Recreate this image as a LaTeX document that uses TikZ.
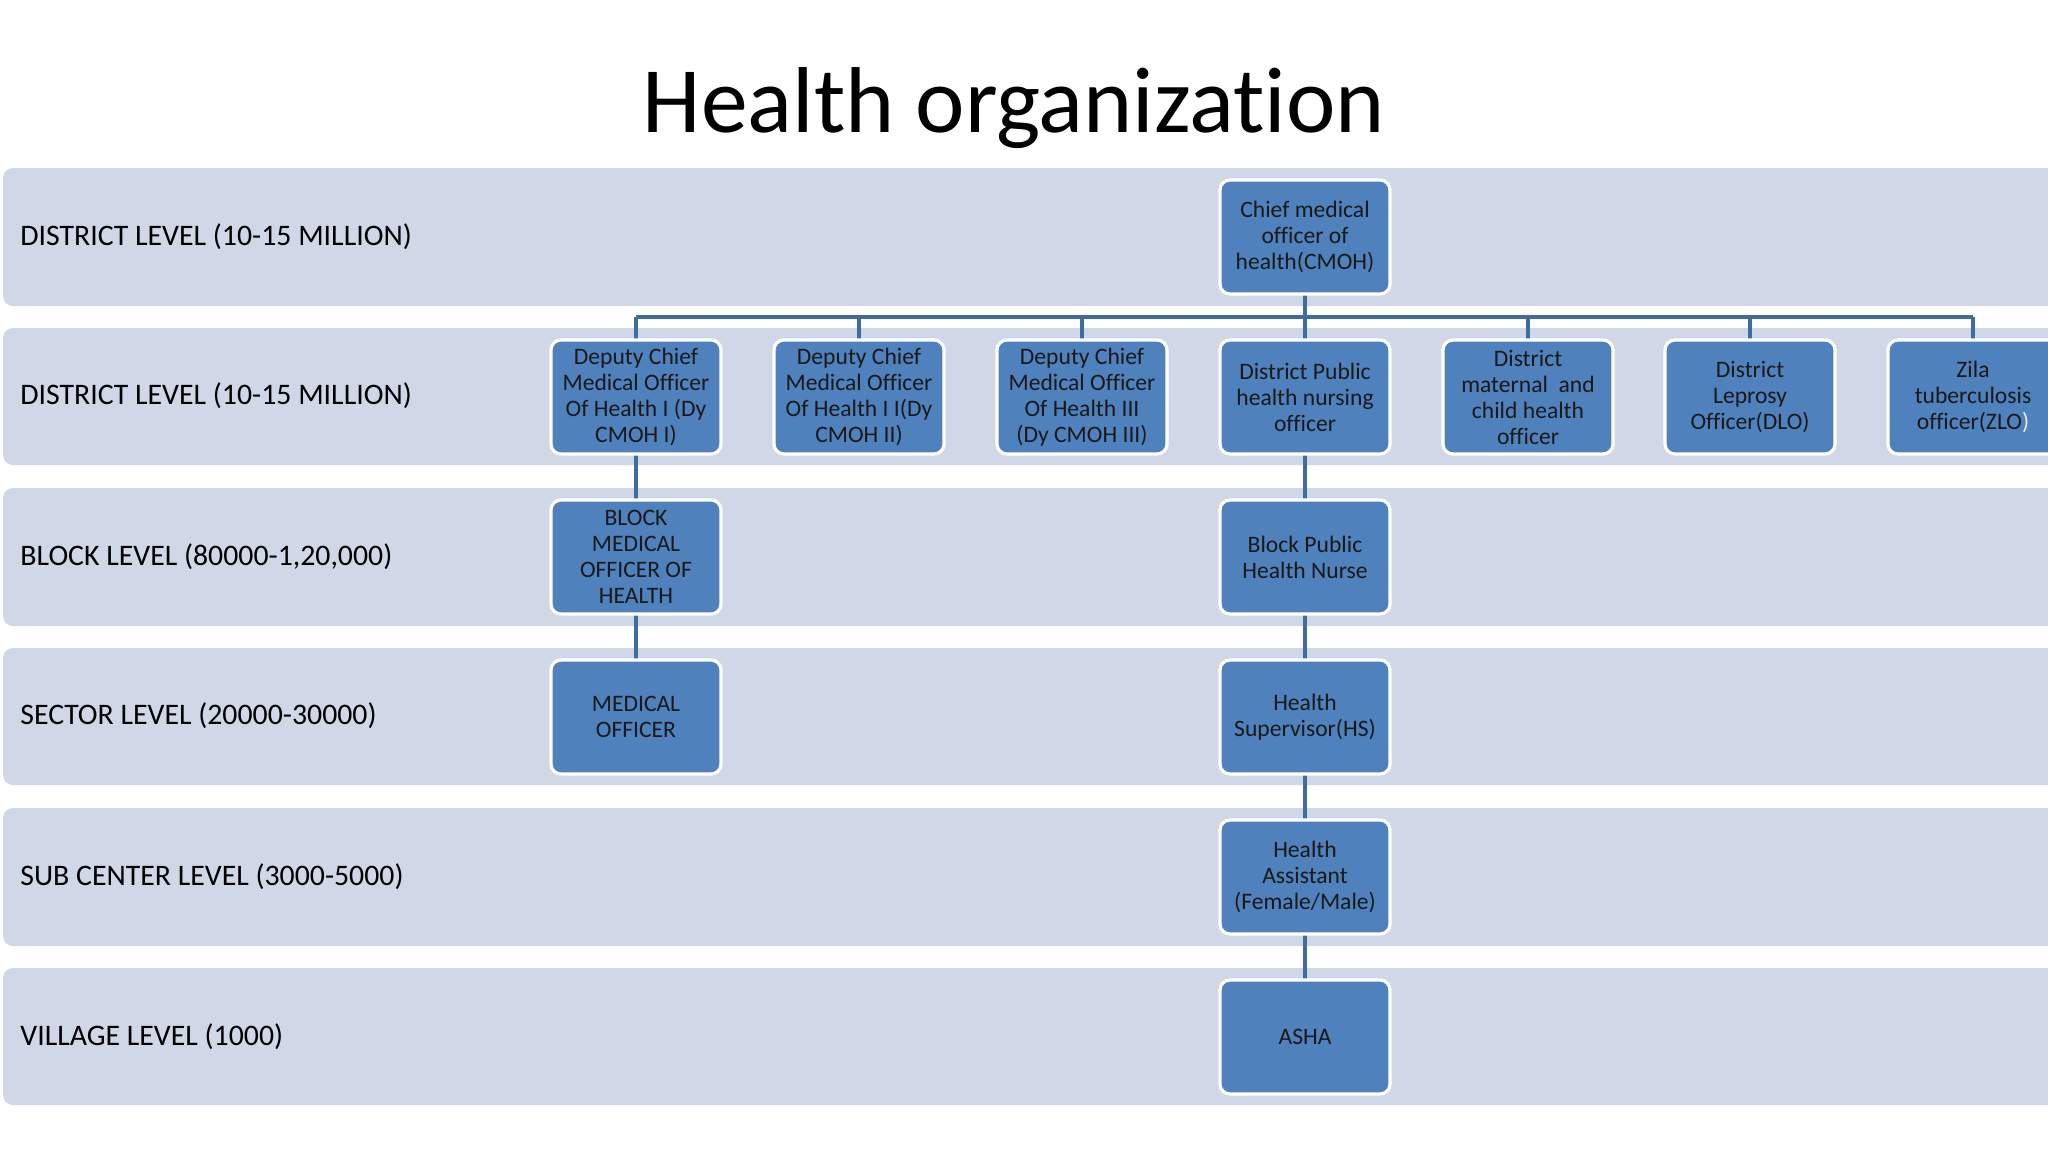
\documentclass[tikz,border=0pt]{standalone}
\usepackage{fontspec}
\setmainfont{Carlito}[Ligatures=NoCommon]
\definecolor{bandc}{HTML}{D0D8E8}
\definecolor{boxc}{HTML}{4F81BD}
\definecolor{connc}{HTML}{3F6B9E}
\pgfdeclarelayer{bands}
\pgfdeclarelayer{conns}
\pgfsetlayers{bands,conns,main}
\begin{document}
\begin{tikzpicture}[x=0.5pt,y=-0.5pt,
  band/.style={fill=bandc, rounded corners=5pt},
  lvl/.style={anchor=west, inner sep=0pt, font=\fontsize{14.9}{18}\selectfont, text=black},
  box/.style={fill=boxc, draw=white, line width=1.6pt, rounded corners=5pt,
    minimum width=85pt, minimum height=57pt, inner sep=1pt, align=center,
    font=\fontsize{11.8}{13}\selectfont, text=black!90},
  conn/.style={draw=connc, line width=2pt}]
\useasboundingbox (0,0) rectangle (2048,1152);
\clip (0,0) rectangle (2048,1152);

\node[font=\fontsize{46.8}{56}\selectfont, text=black] (title) at (1014,108) {Health organization};

% bands
\begin{pgfonlayer}{bands}
\fill[white] (0,0) rectangle (2048,1152);
\fill[band] (3,168) rectangle (2110,306);
\fill[band] (3,328) rectangle (2110,465);
\fill[band] (3,488) rectangle (2110,626);
\fill[band] (3,648) rectangle (2110,785);
\fill[band] (3,808) rectangle (2110,946);
\fill[band] (3,968) rectangle (2110,1105);
\end{pgfonlayer}

\node[lvl] (l1) at (20,237) {DISTRICT LEVEL (10-15 MILLION)};
\node[lvl] (l2) at (20,396) {DISTRICT LEVEL (10-15 MILLION)};
\node[lvl] (l3) at (20,557) {BLOCK LEVEL (80000-1,20,000)};
\node[lvl] (l4) at (20,716) {SECTOR LEVEL (20000-30000)};
\node[lvl] (l5) at (20,877) {SUB CENTER LEVEL (3000-5000)};
\node[lvl] (l6) at (20,1037) {VILLAGE LEVEL (1000)};

% boxes
\node[box] (cmoh) at (1305,237) {Chief medical\\officer of\\health(CMOH)};
\node[box] (d1) at (636,397) {Deputy Chief\\Medical Officer\\Of Health I (Dy\\CMOH I)};
\node[box] (d2) at (859,397) {Deputy Chief\\Medical Officer\\Of Health I I(Dy\\CMOH II)};
\node[box] (d3) at (1082,397) {Deputy Chief\\Medical Officer\\Of Health III\\(Dy CMOH III)};
\node[box] (d4) at (1305,397) {District Public\\health nursing\\officer};
\node[box] (d5) at (1528,397) {District\\maternal\ \ and\\child health\\officer};
\node[box] (d6) at (1750,397) {District\\Leprosy\\Officer(DLO)};
\node[box] (d7) at (1973,397) {Zila\\tuberculosis\\officer(ZLO\textcolor{white!85!boxc}{)}};
\node[box] (bmo) at (636,557) {BLOCK\\MEDICAL\\OFFICER OF\\HEALTH};
\node[box] (bphn) at (1305,557) {Block Public\\Health Nurse};
\node[box] (mo) at (636,717) {MEDICAL\\OFFICER};
\node[box] (hs) at (1305,717) {Health\\Supervisor(HS)};
\node[box] (ha) at (1305,877) {Health\\Assistant\\(Female/Male)};
\node[box] (asha) at (1305,1037) {ASHA};

\coordinate (bus) at (0,317);

\begin{pgfonlayer}{conns}
\draw[conn] (cmoh.center) -- (cmoh |- bus);
\draw[conn] (d1 |- bus) -- (d7 |- bus);
\foreach \n in {d1,d2,d3,d4,d5,d6,d7} {\draw[conn] (\n |- bus) -- (\n.center);}
\draw[conn] (d1.center) -- (bmo.center) -- (mo.center);
\draw[conn] (d4.center) -- (bphn.center) -- (hs.center) -- (ha.center) -- (asha.center);
\end{pgfonlayer}
\end{tikzpicture}
\end{document}
